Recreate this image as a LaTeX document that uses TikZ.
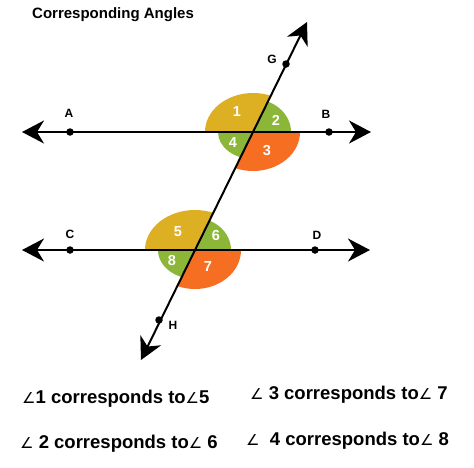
\documentclass[tikz,border=0pt]{standalone}
\usepackage{fontspec}
\setmainfont{Liberation Sans}
\newfontfamily\symf{DejaVu Sans}
\usetikzlibrary{arrows.meta}
\definecolor{angyellow}{RGB}{220,176,34}
\definecolor{anggreen}{RGB}{140,182,56}
\definecolor{angorange}{RGB}{246,110,34}
\newcommand\angsector[5]{\begin{scope}[shift={(#1)}]\clip #2; \fill[#3] (0,0) ellipse [x radius=#4, y radius=#5];\end{scope}}
\newcommand\ang{{\symf\fontsize{15}{15}\selectfont\mdseries ∠}}
\begin{document}
\begin{tikzpicture}[x=1pt,y=-1pt,
  lnb/.style={line width=2pt,{Stealth[length=22pt,width=23pt,inset=7pt]}-{Stealth[length=22pt,width=23pt,inset=7pt]}},
  pt/.style={circle,fill=black,inner sep=0pt,minimum size=7.5pt},
  lab/.style={font=\fontsize{12}{12}\selectfont\bfseries},
  num/.style={text=white,font=\fontsize{14.5}{14.5}\selectfont\bfseries},
  txt/.style={anchor=base west,inner sep=0pt,font=\fontsize{18.5}{18.5}\selectfont\bfseries}]
\useasboundingbox (0,0) rectangle (474,467);
\fill[white] (0,0) rectangle (474,467);
% title
\node[anchor=base west,inner sep=0pt,font=\fontsize{15}{15}\selectfont\bfseries] (title) at (32,18.3) {Corresponding Angles};
% coloured regions, upper intersection
\angsector{253,132}{(0,0) -- (-100,0) -- (-100,-100) -- (49.15,-100) -- cycle}{angyellow}{48}{39}
\angsector{253,132}{(0,0) -- (49.15,-100) -- (100,-100) -- (100,0) -- cycle}{anggreen}{38}{33}
\angsector{253,132}{(0,0) -- (100,0) -- (100,100) -- (-49.15,100) -- cycle}{angorange}{47}{39}
\angsector{253,132}{(0,0) -- (-49.15,100) -- (-100,100) -- (-100,0) -- cycle}{anggreen}{35}{27}
% lower intersection
\angsector{195,250}{(0,0) -- (-100,0) -- (-100,-100) -- (49.15,-100) -- cycle}{angyellow}{50}{40}
\angsector{195,250}{(0,0) -- (49.15,-100) -- (100,-100) -- (100,0) -- cycle}{anggreen}{36}{32}
\angsector{195,250}{(0,0) -- (100,0) -- (100,100) -- (-49.15,100) -- cycle}{angorange}{46}{39}
\angsector{195,250}{(0,0) -- (-49.15,100) -- (-100,100) -- (-100,0) -- cycle}{anggreen}{37}{29}
% line ends
\coordinate (ABl) at (22,132);
\coordinate (ABr) at (371,132);
\coordinate (CDl) at (22,250);
\coordinate (CDr) at (370,250);
\coordinate (Tt) at (307,22);
\coordinate (Tb) at (141,360);
\draw[lnb] (ABl) -- (ABr);
\draw[lnb] (CDl) -- (CDr);
\draw[lnb] (Tb) -- (Tt);
% points
\node[pt] (pA) at (70,132) {};
\node[pt] (pB) at (329,132) {};
\node[pt] (pC) at (70,250) {};
\node[pt] (pD) at (315,250) {};
\node[pt] (pG) at (286,64) {};
\node[pt] (pH) at (159,320) {};
\node[lab] (A) at (69,113) {A};
\node[lab] (B) at (326,114) {B};
\node[lab] (C) at (70,234) {C};
\node[lab] (D) at (317,235) {D};
\node[lab] (G) at (272,59) {G};
\node[lab] (H) at (173,325) {H};
% numbers
\node[num] (n1) at (237,112) {1};
\node[num] (n2) at (276,120) {2};
\node[num] (n4) at (233,143) {4};
\node[num] (n3) at (267,151) {3};
\node[num] (n5) at (178,232) {5};
\node[num] (n6) at (216,236) {6};
\node[num] (n8) at (172,261) {8};
\node[num] (n7) at (208,267) {7};
% statements
\node[txt] (s1) at (22,403) {\ang1 corresponds to\ang5};
\node[txt] (s2) at (20,448) {\ang\ 2 corresponds to\ang\ 6};
\node[txt] (s3) at (250,399) {\ang\ 3 corresponds to\ang\ 7};
\node[txt] (s4) at (246,445) {\ang\ \ 4 corresponds to\ang\ 8};
\end{tikzpicture}
\end{document}
